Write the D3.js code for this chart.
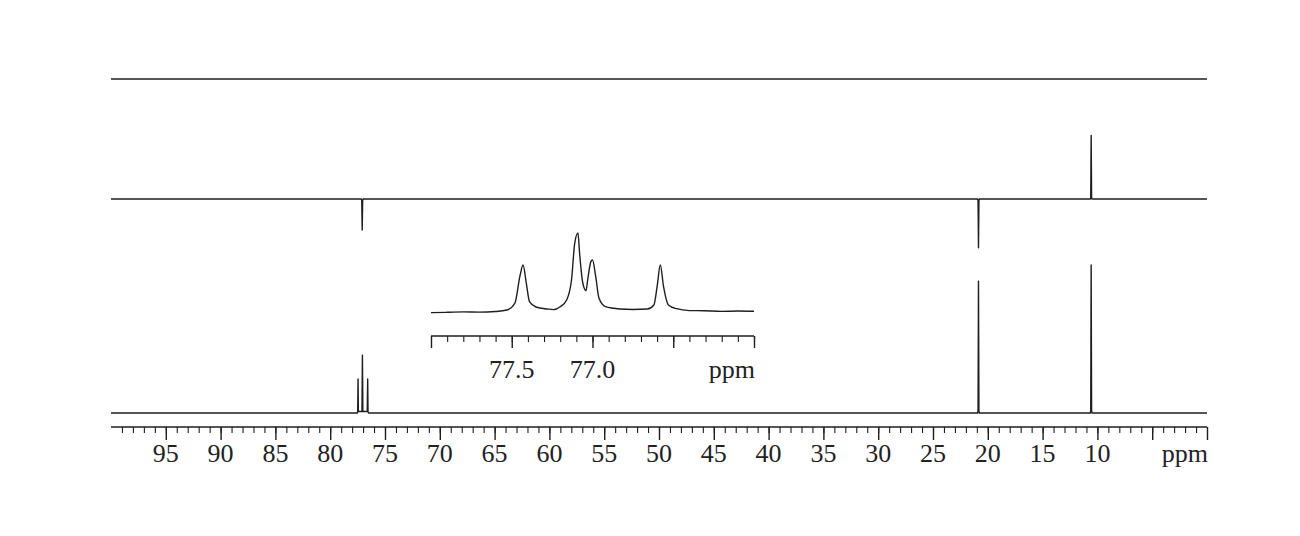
<!DOCTYPE html>
<html>
<head>
<meta charset="utf-8">
<script src="https://cdn.jsdelivr.net/npm/d3@7"></script>
<style>
  body { margin: 0; background: #fff; }
  svg text { font-family: "Liberation Serif", "Times New Roman", serif; fill: #222; }
</style>
</head>
<body>
<svg width="1300" height="536"></svg>
<script>
// main spectrum axis (ppm, reversed)
const mainDomain = [100, 0];
const mainLabels = [95, 90, 85, 80, 75, 70, 65, 60, 55, 50, 45, 40, 35, 30, 25, 20, 15, 10];
const mainMajor = [95, 90, 85, 80, 75, 70, 65, 60, 55, 50, 45, 40, 35, 30, 25, 20, 15, 10, 5, 0];
const unitLabel = "ppm";

// traces: [ppm, intensity]
const topTrace = [[100, 0], [0, 0]];
const middleTrace = [
  [100, 0], [77.16, 0], [77.12, -1], [77.08, -21], [77.04, -1], [77.0, 0],
  [20.93, 0], [20.89, -1], [20.85, -33], [20.81, -1], [20.77, 0],
  [10.65, 0], [10.61, 1], [10.57, 43], [10.53, 1], [10.49, 0], [0, 0]
];
const bottomTrace = [
  [100, 0], [77.52, 0], [77.49, 1], [77.46, 23], [77.43, 1], [77.1, 1], [77.06, 39], [77.02, 1],
  [76.62, 1], [76.58, 23], [76.55, 1], [76.5, 0],
  [20.93, 0], [20.89, 1.5], [20.85, 89], [20.81, 1.5], [20.77, 0],
  [10.65, 0], [10.61, 1.5], [10.57, 100], [10.53, 1.5], [10.49, 0], [0, 0]
];

// inset: expanded 78-76 ppm region of bottom trace
const insetDomain = [78.0, 76.0];
const insetLabels = [77.5, 77.0];
const insetMajor = [78.0, 77.5, 77.0, 76.5, 76.0];
const insetTrace = [
  [78.0, -0.8], [77.9, -0.4], [77.8, 0.2], [77.7, -0.2], [77.6, 0.6], [77.53, 2.5], [77.48, 11.4],
  [77.45, 44.7], [77.43, 59.5], [77.41, 36.7], [77.39, 13], [77.35, 6.3], [77.28, 3.8],
  [77.24, 3.0], [77.2, 6.7], [77.16, 15.2], [77.13, 40.5], [77.11, 87.3], [77.09, 100],
  [77.08, 74.7], [77.06, 36.7], [77.04, 27], [77.03, 40.5], [77.01, 63.7], [77.0, 65.8],
  [76.98, 44.7], [76.96, 17.7], [76.92, 6.7], [76.83, 3.8], [76.75, 3.2], [76.66, 3.8],
  [76.62, 8.9], [76.6, 32], [76.58, 59.5], [76.56, 32], [76.53, 8.9], [76.48, 4.2],
  [76.4, 1.8], [76.31, 1.6], [76.2, 0.8], [76.1, 1.2], [76.0, 0.9]
];

const svg = d3.select("svg");
const ink = "#1e1e1e";

// ---- main plot ----
const x = d3.scaleLinear().domain(mainDomain).range([111, 1207]);
const y = d3.scaleLinear().domain([0, 100]).range([0, -148]);

const traces = [
  { data: topTrace, base: 79 },
  { data: middleTrace, base: 199 },
  { data: bottomTrace, base: 413 }
];

const line = d3.line().x(d => x(d[0])).y(d => y(d[1]));

traces.forEach(t => {
  svg.append("path")
    .attr("transform", `translate(0,${t.base})`)
    .attr("d", line(t.data))
    .attr("fill", "none")
    .attr("stroke", ink)
    .attr("stroke-width", 1.4)
    .attr("stroke-linejoin", "round");
});

// main axis
const axisY = 427;
const gAx = svg.append("g").attr("transform", `translate(0,${axisY})`);
gAx.append("line").attr("x1", x(100)).attr("x2", x(0)).attr("stroke", ink).attr("stroke-width", 1.4);
gAx.append("g")
  .call(d3.axisBottom(x).tickValues(d3.range(99, 0, -1)).tickSize(6).tickFormat(""))
  .call(g => g.select(".domain").remove())
  .selectAll("line").attr("stroke", ink).attr("stroke-width", 1.1);
gAx.append("g")
  .call(d3.axisBottom(x).tickValues(mainMajor).tickSize(13).tickFormat(""))
  .call(g => g.select(".domain").remove())
  .selectAll("line").attr("stroke", ink).attr("stroke-width", 1.4);
gAx.selectAll("text.lab")
  .data(mainLabels)
  .join("text")
  .attr("class", "lab")
  .attr("x", d => x(d))
  .attr("y", 35)
  .attr("text-anchor", "middle")
  .attr("font-size", 26)
  .text(d => d);
gAx.append("text")
  .attr("x", x(0) + 1)
  .attr("y", 35)
  .attr("text-anchor", "end")
  .attr("font-size", 26)
  .text(unitLabel);

// ---- inset ----
const xi = d3.scaleLinear().domain(insetDomain).range([431, 754]);
const yi = d3.scaleLinear().domain([0, 100]).range([312, 233]);

svg.append("path")
  .datum(insetTrace)
  .attr("d", d3.line().x(d => xi(d[0])).y(d => yi(d[1])).curve(d3.curveMonotoneX))
  .attr("fill", "none")
  .attr("stroke", ink)
  .attr("stroke-width", 1.4);

const insetAxisY = 336;
const gIn = svg.append("g").attr("transform", `translate(0,${insetAxisY})`);
gIn.append("line").attr("x1", xi(78)).attr("x2", xi(76)).attr("stroke", ink).attr("stroke-width", 1.4);
gIn.append("g")
  .call(d3.axisBottom(xi).tickValues(d3.range(20).map(i => 77.9 - i * 0.1)).tickSize(6).tickFormat(""))
  .call(g => g.select(".domain").remove())
  .selectAll("line").attr("stroke", ink).attr("stroke-width", 1.1);
gIn.append("g")
  .call(d3.axisBottom(xi).tickValues(insetMajor).tickSize(12).tickFormat(""))
  .call(g => g.select(".domain").remove())
  .selectAll("line").attr("stroke", ink).attr("stroke-width", 1.4);
gIn.selectAll("text.lab")
  .data(insetLabels)
  .join("text")
  .attr("class", "lab")
  .attr("x", d => xi(d))
  .attr("y", 42)
  .attr("text-anchor", "middle")
  .attr("font-size", 26)
  .text(d => d.toFixed(1));
gIn.append("text")
  .attr("x", xi(76) + 1)
  .attr("y", 42)
  .attr("text-anchor", "end")
  .attr("font-size", 26)
  .text(unitLabel);
</script>
</body>
</html>
